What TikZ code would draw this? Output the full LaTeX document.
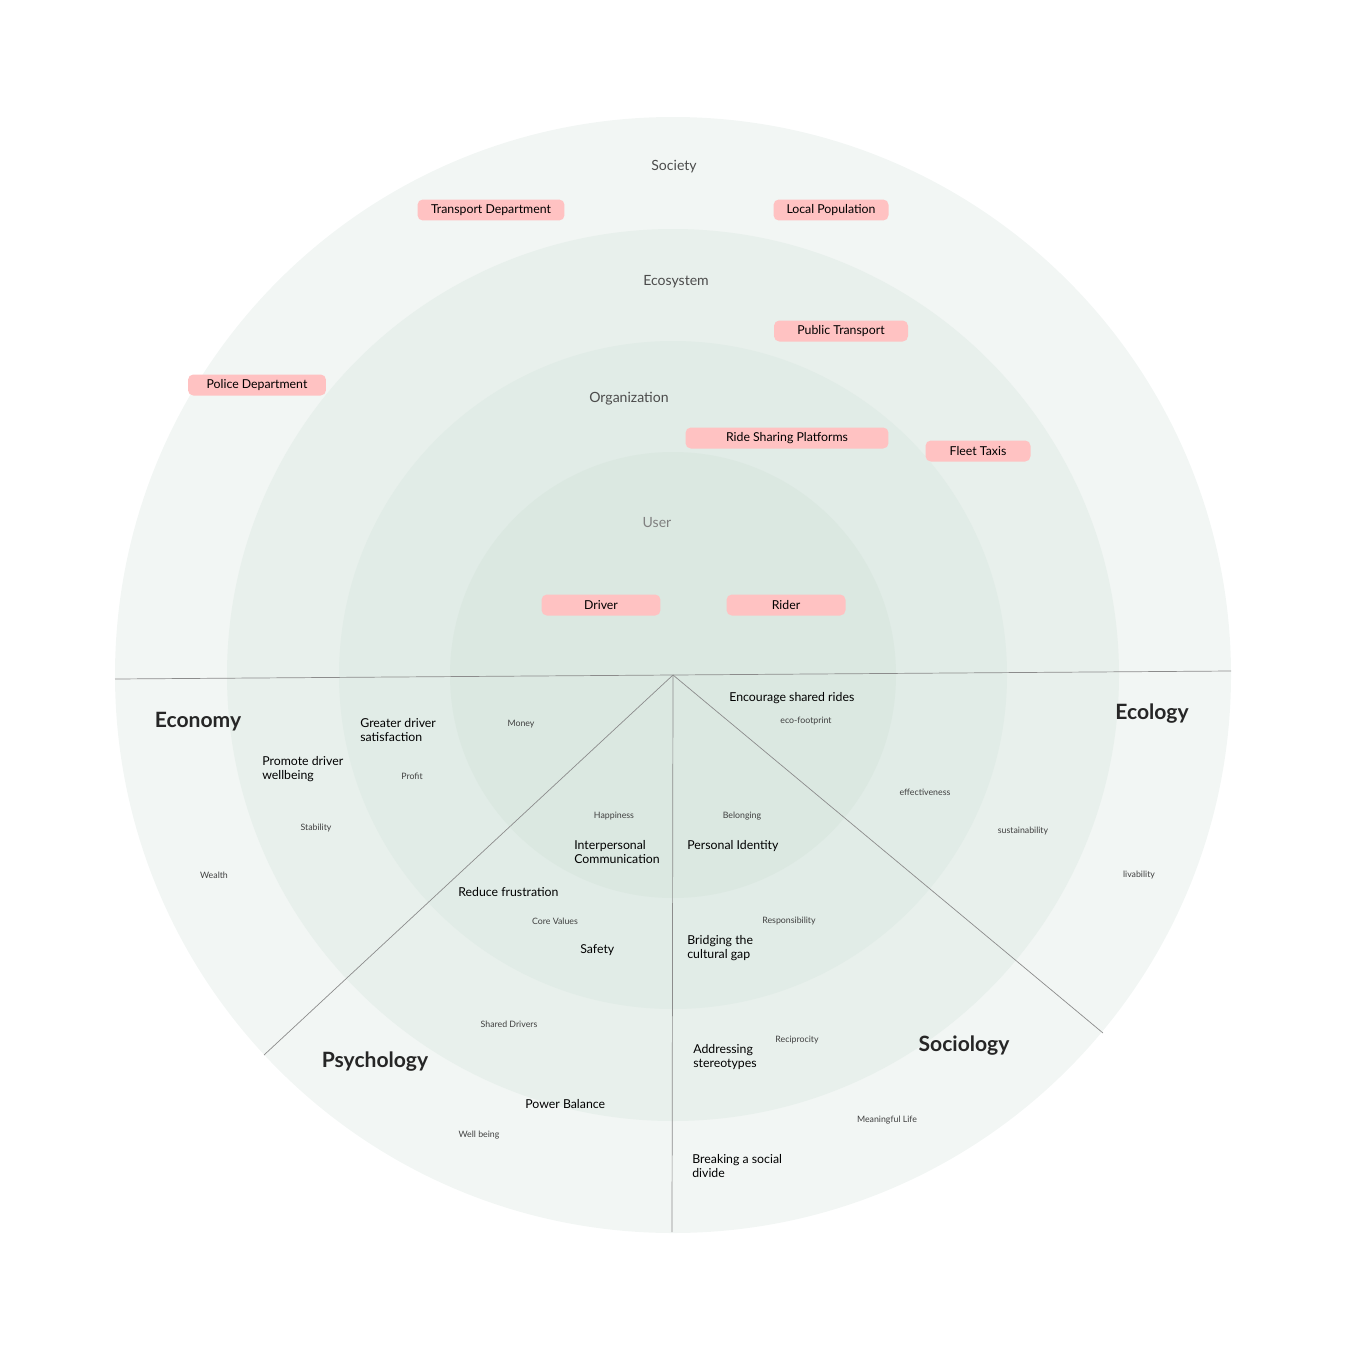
\documentclass[tikz,border=0pt]{standalone}
\usepackage{fontspec}
\setmainfont{Lato}
\begin{document}
\begin{tikzpicture}[x=0.02cm,y=-0.02cm,
    tag/.style={fill=pinkbox, rounded corners=3pt, minimum height=0.42cm, font=\scriptsize, inner sep=2pt},
    ring/.style={font=\footnotesize, text=black!70},
    goal/.style={font=\scriptsize, align=left, anchor=west, inner sep=0pt},
    value/.style={font=\tiny, text=black!75},
    field/.style={font=\large\bfseries, text=black!85}]
  \definecolor{pinkbox}{HTML}{FFC2C2}
  \definecolor{ringa}{HTML}{F2F6F4}
  \definecolor{ringb}{HTML}{E8F0EC}
  \definecolor{ringc}{HTML}{E1ECE7}
  \definecolor{ringd}{HTML}{DBE8E1}
  \useasboundingbox (0,0) rectangle (1358,1345);
  \coordinate (o) at (673,675);
  % rings
  \fill[ringa] (o) circle (558);
  \fill[ringb] (o) circle (446);
  \fill[ringc] (o) circle (334);
  \fill[ringd] (o) circle (223);
  % sectors
  \coordinate (w) at (115,679);
  \coordinate (e) at (1231,671);
  \coordinate (sw) at (264,1055);
  \coordinate (s) at (672,1232);
  \coordinate (se) at (1103,1033);
  \foreach \p in {w,e,sw,s,se} \draw[black!45, thin] (o) -- (\p);
  % ring titles
  \node[ring] (society) at (674,167) {Society};
  \node[ring] (ecosystem) at (676,282) {Ecosystem};
  \node[ring] (organization) at (629,399) {Organization};
  \node[ring, text=black!50] (user) at (657,523) {User};
  % stakeholders
  \node[tag, minimum width=2.94cm] (transport) at (491,210) {Transport Department};
  \node[tag, minimum width=2.3cm] (population) at (831,210) {Local Population};
  \node[tag, minimum width=2.68cm] (public) at (841,331) {Public Transport};
  \node[tag, minimum width=2.76cm] (police) at (257,385) {Police Department};
  \node[tag, minimum width=4.06cm] (platforms) at (787,438) {Ride Sharing Platforms};
  \node[tag, minimum width=2.1cm] (taxis) at (978,451) {Fleet Taxis};
  \node[tag, minimum width=2.38cm] (driver) at (601,605) {Driver};
  \node[tag, minimum width=2.38cm] (rider) at (786,605) {Rider};
  % fields
  \node[field] (economy) at (198,722) {Economy};
  \node[field] (ecology) at (1152,714) {Ecology};
  \node[field] (psychology) at (375,1062) {Psychology};
  \node[field] (sociology) at (964,1046) {Sociology};
  % goals
  \node[goal] (g1) at (360,730) {Greater driver\\satisfaction};
  \node[goal] (g2) at (262,769) {Promote driver\\wellbeing};
  \node[goal] (g3) at (729,698) {Encourage shared rides};
  \node[goal] (g4) at (574,852) {Interpersonal\\Communication};
  \node[goal] (g5) at (687,846) {Personal Identity};
  \node[goal] (g6) at (458,892) {Reduce frustration};
  \node[goal] (g7) at (580,950) {Safety};
  \node[goal] (g8) at (687,948) {Bridging the\\cultural gap};
  \node[goal] (g9) at (693,1057) {Addressing\\stereotypes};
  \node[goal] (g10) at (525,1104) {Power Balance};
  \node[goal] (g11) at (692,1166) {Breaking a social\\divide};
  % values
  \node[value] (v1) at (521,724) {Money};
  \node[value] (v2) at (412,776) {Profit};
  \node[value] (v3) at (316,828) {Stability};
  \node[value] (v4) at (214,875) {Wealth};
  \node[value] (v5) at (806,721) {eco-footprint};
  \node[value] (v6) at (925,792) {effectiveness};
  \node[value] (v7) at (1023,831) {sustainability};
  \node[value] (v8) at (1139,875) {livability};
  \node[value] (v9) at (614,816) {Happiness};
  \node[value] (v10) at (742,816) {Belonging};
  \node[value] (v11) at (555,921) {Core Values};
  \node[value] (v12) at (789,921) {Responsibility};
  \node[value] (v13) at (509,1024) {Shared Drivers};
  \node[value] (v14) at (797,1040) {Reciprocity};
  \node[value] (v15) at (479,1135) {Well being};
  \node[value] (v16) at (887,1120) {Meaningful Life};
\end{tikzpicture}
\end{document}
